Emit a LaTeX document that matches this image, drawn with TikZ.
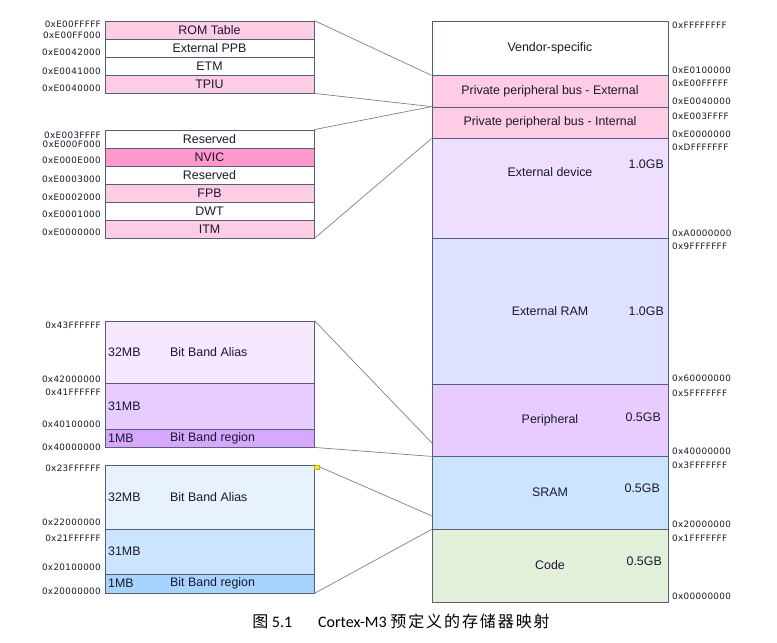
\documentclass[tikz,border=0pt]{standalone}
\usepackage{fontspec}
\setmainfont{Liberation Sans}
\newfontfamily\hexfont[LetterSpace=4]{DejaVu Sans}
\newfontfamily\capfont{Carlito}
\newfontfamily\cjk[LetterSpace=12]{Noto Sans CJK SC}
\newcommand{\boxfont}{\fontsize{12.4}{14}\selectfont}
\newcommand{\hexsize}{\hexfont\fontsize{8.8}{10}\selectfont}
\definecolor{edgecol}{RGB}{85,95,115}
\definecolor{txtcol}{RGB}{25,25,45}
\definecolor{linkcol}{RGB}{128,128,128}
\definecolor{ppbpink}{RGB}{255,204,230}
\definecolor{nvicpink}{RGB}{255,153,204}
\definecolor{extdevcol}{RGB}{238,222,255}
\definecolor{extramcol}{RGB}{222,225,255}
\definecolor{periphcol}{RGB}{233,204,255}
\definecolor{sramcol}{RGB}{204,229,255}
\definecolor{codecol}{RGB}{226,239,217}
\definecolor{aliaspurple}{RGB}{245,232,255}
\definecolor{bandpurple}{RGB}{214,168,255}
\definecolor{aliasblue}{RGB}{232,242,255}
\definecolor{bandblue}{RGB}{168,211,255}
\definecolor{markyellow}{RGB}{245,230,66}
\definecolor{markedge}{RGB}{200,180,0}

\begin{document}
\begin{tikzpicture}[x=1pt,y=-1pt,
  cell/.style={draw=edgecol,line width=0.8pt,minimum width=209pt,minimum height=18pt,inner sep=0pt,font=\boxfont,text=txtcol},
  region/.style={draw=edgecol,line width=0.8pt,minimum width=236pt,inner sep=0pt,font=\boxfont,text=txtcol},
  band/.style={draw=edgecol,line width=0.8pt,minimum width=209pt,inner sep=0pt},
  bandlab/.style={anchor=west,inner sep=0pt,font=\boxfont,text=txtcol},
  sizelab/.style={anchor=east,inner sep=0pt,font=\boxfont,text=txtcol},
  hexl/.style={anchor=east,inner sep=0pt,font=\hexsize,text=txtcol},
  hexr/.style={anchor=west,inner sep=0pt,font=\hexsize,text=txtcol},
  link/.style={draw=linkcol,line width=0.7pt}]
\useasboundingbox (0,0) rectangle (777,643);

% private peripheral bus, external part
\node[cell,fill=ppbpink] (rom) at (209.5,30) {ROM Table};
\node[cell] (extppb) at (209.5,48) {External PPB};
\node[cell] (etm) at (209.5,66) {ETM};
\node[cell,fill=ppbpink] (tpiu) at (209.5,84) {TPIU};

% private peripheral bus, internal part
\node[cell] (resvA) at (209.5,139) {Reserved};
\node[cell,fill=nvicpink] (nvic) at (209.5,157) {NVIC};
\node[cell] (resvB) at (209.5,175) {Reserved};
\node[cell,fill=ppbpink] (fpb) at (209.5,193) {FPB};
\node[cell] (dwt) at (209.5,211) {DWT};
\node[cell,fill=ppbpink] (itm) at (209.5,229) {ITM};

% bit band, peripheral
\node[band,fill=aliaspurple,minimum height=62pt] (aliasA) at (209.5,352) {};
\node[band,fill=periphcol,minimum height=46pt] (midA) at (209.5,406) {};
\node[band,fill=bandpurple,minimum height=18pt] (bandA) at (209.5,438) {};
\node[bandlab] (aliasAsize) at (108,352) {32MB};
\node[bandlab] (aliasAname) at (170,352) {Bit Band Alias};
\node[bandlab] (midAsize) at (108,406) {31MB};
\node[bandlab] (bandAsize) at (108,438) {1MB};
\node[bandlab] (bandAname) at (170,438) {Bit Band region};

% bit band, SRAM
\node[band,fill=aliasblue,minimum height=64pt] (aliasB) at (209.5,497) {};
\node[band,fill=sramcol,minimum height=45pt] (midB) at (209.5,551.5) {};
\node[band,fill=bandblue,minimum height=19pt] (bandB) at (209.5,583.5) {};
\node[bandlab] (aliasBsize) at (108,497) {32MB};
\node[bandlab] (aliasBname) at (170,497) {Bit Band Alias};
\node[bandlab] (midBsize) at (108,551.5) {31MB};
\node[bandlab] (bandBsize) at (108,583.5) {1MB};
\node[bandlab] (bandBname) at (170,583.5) {Bit Band region};

% memory map
\node[region,fill=white,minimum height=54pt] (vendor) at (550,48) {Vendor-specific};
\node[region,fill=ppbpink,minimum height=32pt] (ppbext) at (550,91) {Private peripheral bus - External};
\node[region,fill=ppbpink,minimum height=31pt] (ppbint) at (550,122.5) {Private peripheral bus - Internal};
\node[region,fill=extdevcol,minimum height=100pt] (extdev) at (550,188) {};
\node[region,fill=extramcol,minimum height=146pt] (extram) at (550,311) {External RAM};
\node[region,fill=periphcol,minimum height=72pt] (periph) at (550,420) {Peripheral};
\node[region,fill=sramcol,minimum height=73pt] (sram) at (550,492.5) {SRAM};
\node[region,fill=codecol,minimum height=73pt] (code) at (550,565.5) {Code};
\node[inner sep=0pt,font=\boxfont,text=txtcol] (extdevname) at (550,172) {External device};
\node[sizelab] (extdevsize) at (664,164.5) {1.0GB};
\node[sizelab] (extramsize) at (664,311.5) {1.0GB};
\node[sizelab] (periphsize) at (661,417.5) {0.5GB};
\node[sizelab] (sramsize) at (660,488) {0.5GB};
\node[sizelab] (codesize) at (662,561.5) {0.5GB};

% connectors
\coordinate (periphtap) at (432,443);
\coordinate (sramtap) at (432,516);
\draw[link] (rom.north east) -- (vendor.south west);
\draw[link] (tpiu.south east) -- (ppbint.north west);
\draw[link] (resvA.north east) -- (ppbint.north west);
\draw[link] (itm.south east) -- (ppbint.south west);
\draw[link] (aliasA.north east) -- (periphtap);
\draw[link] (bandA.south east) -- (periph.south west);
\draw[link] (aliasB.north east) -- (sramtap);
\draw[link] (bandB.south east) -- (sram.south west);
\node[draw=markedge,fill=markyellow,line width=0.4pt,minimum width=5pt,minimum height=4pt,inner sep=0pt] (mark) at (316.5,467) {};

% addresses, left
\node[hexl] (lE00FFFFF) at (101,24) {0xE00FFFFF};
\node[hexl] (lE00FF000) at (101,35) {0xE00FF000};
\node[hexl] (lE0042000) at (101,52.7) {0xE0042000};
\node[hexl] (lE0041000) at (101,71) {0xE0041000};
\node[hexl] (lE0040000) at (101,88) {0xE0040000};
\node[hexl] (lE003FFFF) at (101,135) {0xE003FFFF};
\node[hexl] (lE000F000) at (101,144) {0xE000F000};
\node[hexl] (lE000E000) at (101,160.7) {0xE000E000};
\node[hexl] (lE0003000) at (101,179) {0xE0003000};
\node[hexl] (lE0002000) at (101,197) {0xE0002000};
\node[hexl] (lE0001000) at (101,214) {0xE0001000};
\node[hexl] (lE0000000) at (101,232) {0xE0000000};
\node[hexl] (l43FFFFFF) at (101,325) {0x43FFFFFF};
\node[hexl] (l42000000) at (101,379) {0x42000000};
\node[hexl] (l41FFFFFF) at (101,392.7) {0x41FFFFFF};
\node[hexl] (l40100000) at (101,424) {0x40100000};
\node[hexl] (l40000000) at (101,447) {0x40000000};
\node[hexl] (l23FFFFFF) at (101,468) {0x23FFFFFF};
\node[hexl] (l22000000) at (101,522) {0x22000000};
\node[hexl] (l21FFFFFF) at (101,538.7) {0x21FFFFFF};
\node[hexl] (l20100000) at (101,567.7) {0x20100000};
\node[hexl] (l20000000) at (101,591) {0x20000000};

% addresses, right
\node[hexr] (rFFFFFFFF) at (672,25) {0xFFFFFFFF};
\node[hexr] (rE0100000) at (672,70) {0xE0100000};
\node[hexr] (rE00FFFFF) at (672,83) {0xE00FFFFF};
\node[hexr] (rE0040000) at (672,101) {0xE0040000};
\node[hexr] (rE003FFFF) at (672,116) {0xE003FFFF};
\node[hexr] (rE0000000) at (672,134) {0xE0000000};
\node[hexr] (rDFFFFFFF) at (672,147) {0xDFFFFFFF};
\node[hexr] (rA0000000) at (672,233) {0xA0000000};
\node[hexr] (r9FFFFFFF) at (672,246.7) {0x9FFFFFFF};
\node[hexr] (r60000000) at (672,378) {0x60000000};
\node[hexr] (r5FFFFFFF) at (672,393) {0x5FFFFFFF};
\node[hexr] (r40000000) at (672,451) {0x40000000};
\node[hexr] (r3FFFFFFF) at (672,465.7) {0x3FFFFFFF};
\node[hexr] (r20000000) at (672,524) {0x20000000};
\node[hexr] (r1FFFFFFF) at (672,538) {0x1FFFFFFF};
\node[hexr] (r00000000) at (672,596.7) {0x00000000};

% caption
\node[inner sep=0pt,font=\capfont\fontsize{16}{18}\selectfont,text=black] (caption) at (401,621)
  {{\cjk 图} 5.1\hspace{26pt}Cortex-M3 {\cjk 预定义的存储器映射}};
\end{tikzpicture}
\end{document}
